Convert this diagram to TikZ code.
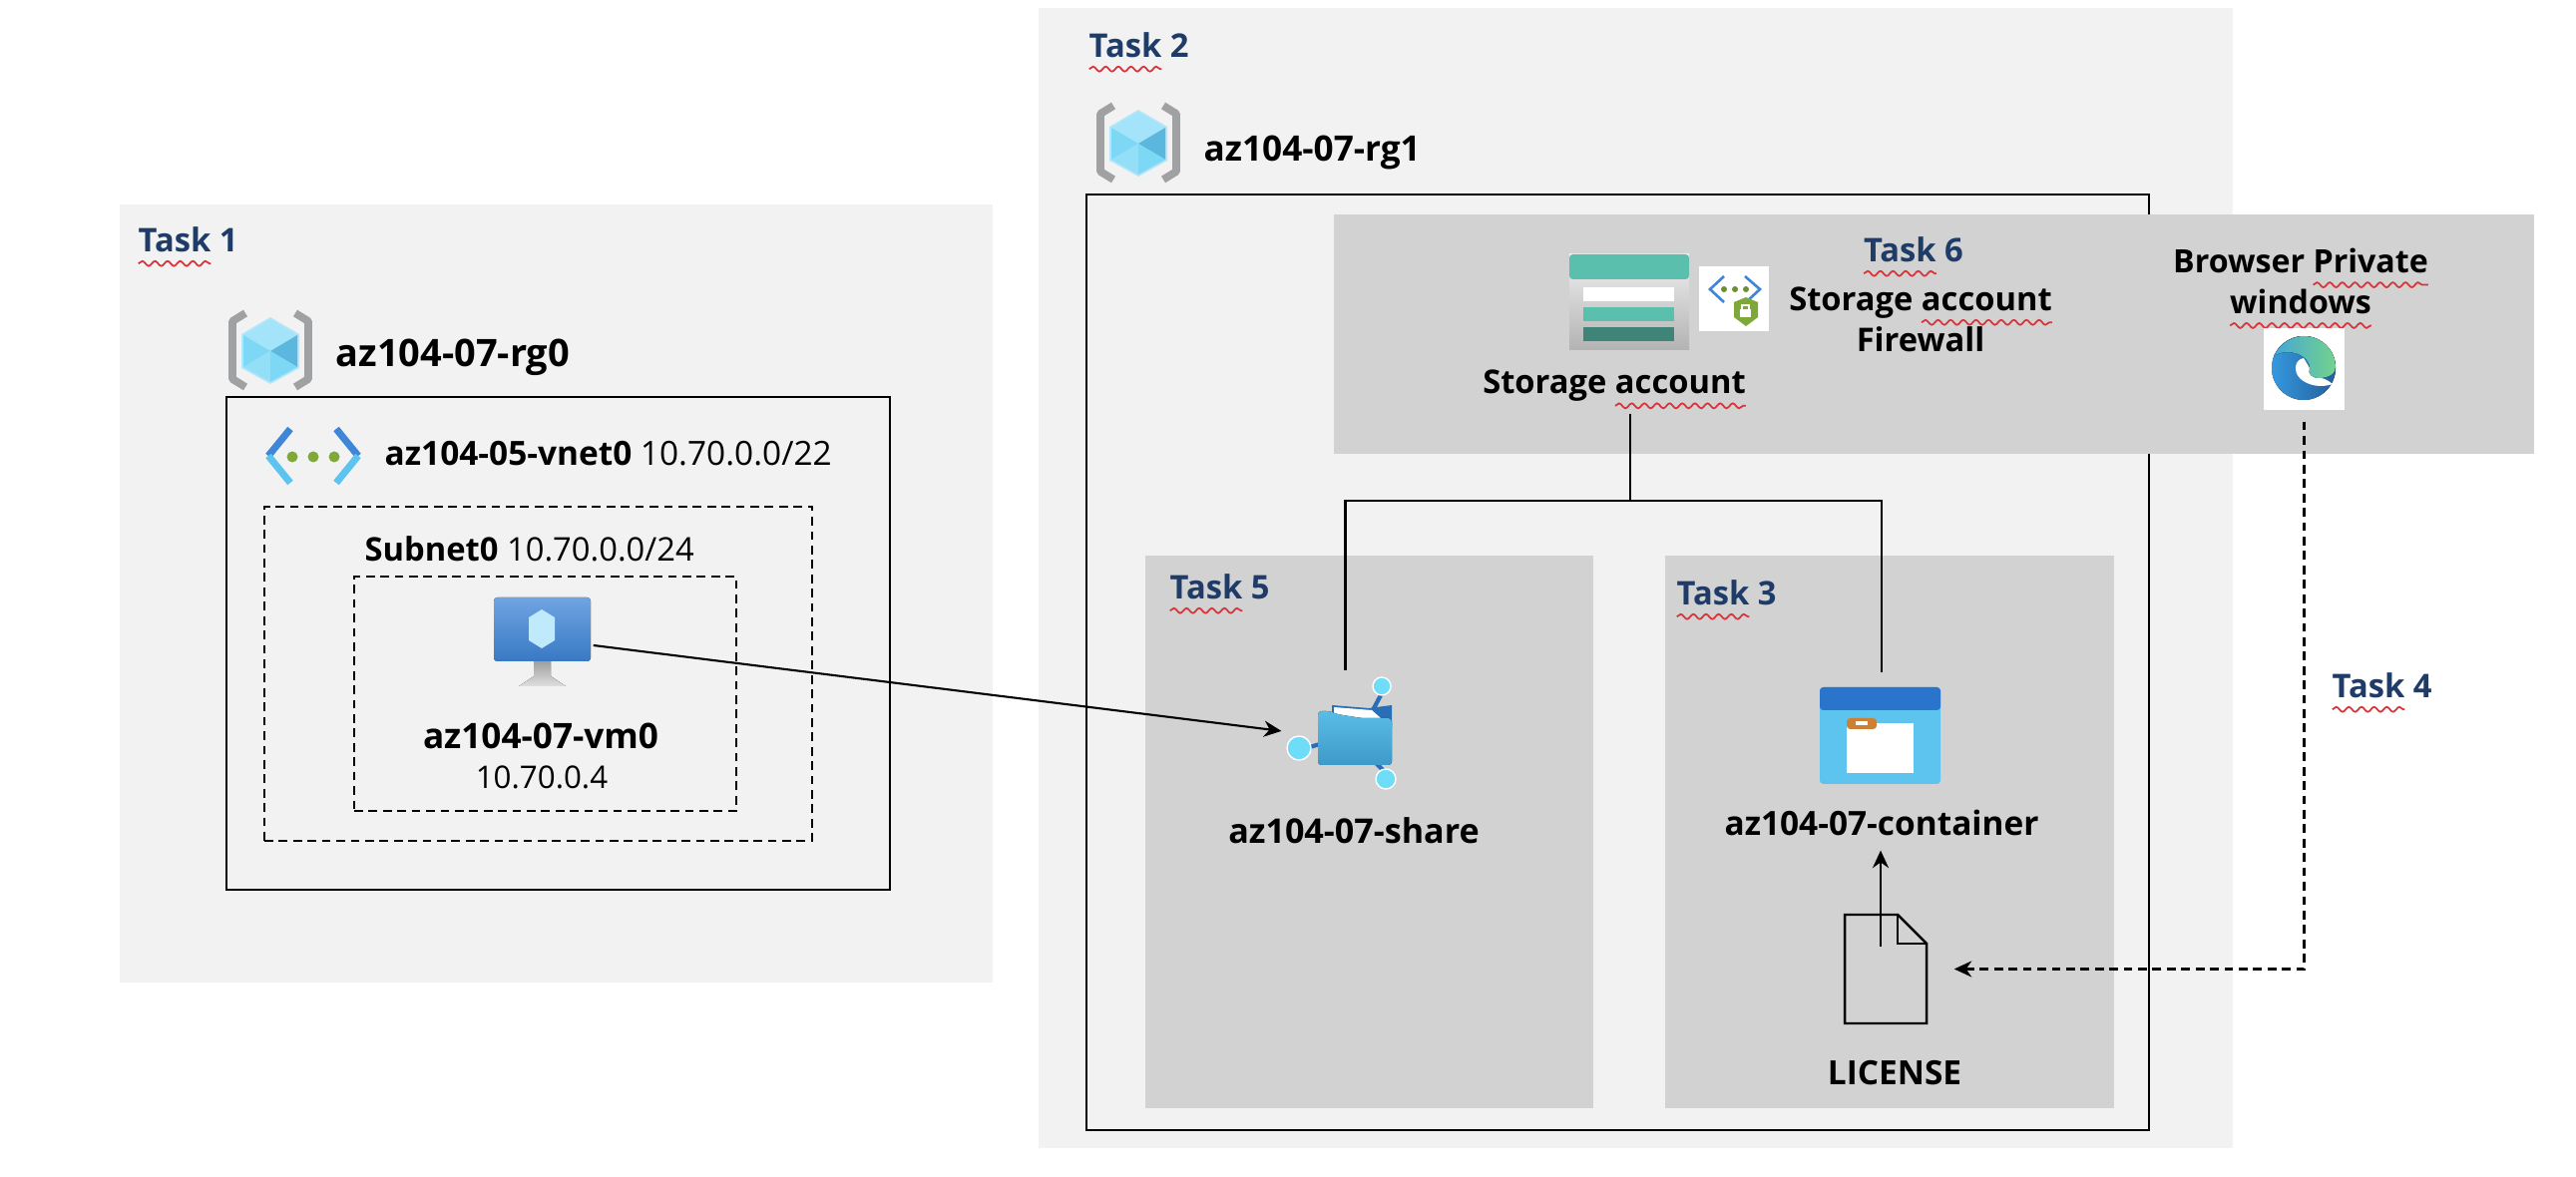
\documentclass[tikz,border=0pt]{standalone}
\usepackage{fontspec}
\setmainfont{Open Sans}
\usetikzlibrary{fit,arrows.meta,decorations.pathmorphing}

\definecolor{panelgray}{HTML}{F2F2F2}
\definecolor{bandgray}{HTML}{D2D2D2}
\definecolor{tasknavy}{HTML}{1F3B68}
\definecolor{bracketgray}{HTML}{A0A1A3}
\definecolor{spellred}{HTML}{D9343A}
\definecolor{HexTop}{HTML}{A3E4FA}
\definecolor{HexLeft}{HTML}{7DD8F6}
\definecolor{HexLow}{HTML}{93DFF8}
\definecolor{HexDark}{HTML}{5BB7DE}
\definecolor{netblue}{HTML}{3F86D9}
\definecolor{netcyan}{HTML}{5CC4EE}
\definecolor{netgreen}{HTML}{7FA83A}
\definecolor{sateal}{HTML}{5BBFAD}
\definecolor{sadark}{HTML}{3E8578}
\definecolor{foldertop}{HTML}{5ABDE6}
\definecolor{folderlow}{HTML}{3E9AC8}
\definecolor{folderback}{HTML}{2A6FB5}
\definecolor{sharenode}{HTML}{6FDCF8}
\definecolor{contband}{HTML}{2B74CC}
\definecolor{edgeteal}{HTML}{45A6D6}
\definecolor{edgegreen}{HTML}{72D38C}

% wavy spell-check line under a word
\newcommand{\spell}[1]{\setbox0=\hbox{#1}\rlap{\tikz[overlay,baseline=0pt]\draw[spellred, line width=0.5pt, decorate, decoration={snake, segment length=3.6pt, amplitude=0.7pt}] (0pt,-3.4pt) -- (\wd0,-3.4pt);}#1}

\tikzset{
  panel/.style={fill=panelgray, inner sep=0pt},
  band/.style={fill=bandgray, inner sep=0pt},
  frame/.style={draw=black, line width=0.6pt, inner sep=0pt},
  dashframe/.style={draw=black, line width=0.55pt, dash pattern=on 2.5pt off 1.6pt, inner sep=0pt},
  slot/.style={inner sep=0pt},
  lbl/.style={font=\fontsize{9.3}{11.6}\selectfont, text=black, inner xsep=0pt, inner ysep=4pt, align=center},
  bold/.style={lbl, font=\fontsize{#1}{11.6}\selectfont\bfseries},
  bold/.default=9.3,
  tasklbl/.style={lbl, font=\fontsize{9.3}{11}\selectfont\bfseries, text=tasknavy},
  wire/.style={line width=0.6pt},
  dashwire/.style={line width=0.6pt, dash pattern=on 2.5pt off 1.6pt},
}

% resource group: cube between two brackets
\newcommand{\rgicon}[2]{
  \begin{scope}[shift={(#1,#2)}]
    \draw[bracketgray, line width=2.2pt, line join=round] (-25,-37) -- (-38,-29) -- (-38,29) -- (-25,37);
    \draw[bracketgray, line width=2.2pt, line join=round] (25,-37) -- (38,-29) -- (38,29) -- (25,37);
    \fill[white!70!cyan] (0,-33) -- (29,-16) -- (29,18) -- (0,34) -- (-29,18) -- (-29,-16) -- cycle;
    \fill[HexTop] (0,-31) -- (27,-15) -- (0,1) -- (-27,-15) -- cycle;
    \fill[HexLeft] (-27,-15) -- (0,1) -- (-27,17) -- cycle;
    \fill[HexLow] (-27,17) -- (0,1) -- (0,32) -- cycle;
    \fill[HexDark] (27,-15) -- (27,17) -- (0,1) -- cycle;
    \fill[HexLeft] (27,17) -- (0,1) -- (0,32) -- cycle;
  \end{scope}
}

\begin{document}
\begin{tikzpicture}[x=0.01cm, y=-0.01cm, >={Stealth[length=5pt, width=4.6pt]}]
  \useasboundingbox (0,0) rectangle (2582,1180);

  % Task 1
  \node[panel, fit={(120,205) (995,985)}] (task1) {};
  \node[tasklbl, anchor=west] (task1lbl) at (138,240) {\spell{Task} 1};
  \rgicon{271}{351}
  \node[bold=10.8, anchor=west] (rg0lbl) at (336,358) {az104-07-rg0};
  \node[frame, fit={(227,398) (892,892)}] (rg0) {};

  % virtual network
  \coordinate (vneticon) at (314,457);
  \begin{scope}[shift={(vneticon)}]
    \draw[line width=2pt, netblue] (-23,-27) -- (-45,0);
    \draw[line width=2pt, netcyan] (-45,0) -- (-23,27);
    \draw[line width=2pt, netblue] (23,-27) -- (45,0);
    \draw[line width=2pt, netcyan] (45,0) -- (23,27);
    \foreach \dx in {-21,0,21}
      \fill[netgreen] (\dx,1) circle (5.5);
  \end{scope}
  \node[lbl, anchor=west, font=\fontsize{9.5}{11.6}\selectfont] (vnetlbl) at (385,455) {\textbf{az104-05-vnet0} 10.70.0.0/22};

  % subnet and vm
  \node[dashframe, fit={(265,508) (814,843)}] (subnet) {};
  \node[lbl, anchor=west] (subnetlbl) at (365,550) {\textbf{Subnet0} 10.70.0.0/24};
  \node[dashframe, fit={(355,578) (738,813)}] (vmbox) {};
  \node[slot, fit={(495,606) (594,688)}] (vm) {};
  \fill[top color=gray!75, bottom color=gray!25] (535,663) -- (552,663) -- (552,678) -- (567,688) -- (520,688) -- (535,678) -- cycle;
  \fill[rounded corners=1pt, top color=netblue!75!white, bottom color=netblue!90!black] (495,599) rectangle (592,663);
  \fill[cyan!25!white] (543,611) -- (556,619) -- (556,642) -- (543,650) -- (530,642) -- (530,619) -- cycle;
  \node[bold=10] (vmlbl) at (542,738) {az104-07-vm0};
  \node[lbl, font=\fontsize{8.9}{11.6}\selectfont] (vmip) at (543,779) {10.70.0.4};

  % Task 2
  \node[panel, fit={(1041,8) (2238,1151)}] (task2) {};
  \node[tasklbl, anchor=west] (task2lbl) at (1091,45) {\spell{Task} 2};
  \rgicon{1141}{143}
  \node[bold=10, anchor=west] (rg1lbl) at (1206,153) {az104-07-rg1};
  \node[frame, fit={(1089,195) (2154,1133)}] (rg1) {};

  % Task 6 band
  \node[band, fit={(1337,215) (2540,455)}] (task6) {};
  \fill[top color=gray!12, bottom color=gray!60] (1573,255) rectangle (1693,351);
  \fill[rounded corners=1pt, sateal] (1573,255) rectangle (1693,280);
  \fill[white] (1587,288) rectangle (1678,302);
  \fill[sateal] (1587,308) rectangle (1678,322);
  \fill[sadark] (1587,328) rectangle (1678,342);
  % firewall tile
  \fill[white] (1703,267) rectangle (1773,332);
  \draw[netblue, line width=0.75pt] (1728,277) -- (1714,290) -- (1728,303);
  \draw[netblue, line width=0.75pt] (1749,277) -- (1764,290) -- (1750,303);
  \foreach \dx in {1728,1739,1750}
    \fill[netgreen!85!black] (\dx,290) circle (3);
  \fill[netgreen] (1738,303) -- (1750,298) -- (1762,303) -- (1762,318) -- (1750,327) -- (1738,318) -- cycle;
  \fill[white] (1744,310) rectangle (1755,318);
  \draw[white, line width=0.5pt] (1746,310) -- (1746,306) -- (1753,306) -- (1753,310);
  \node[bold] (salbl) at (1618,387) {Storage \spell{account}};
  \node[tasklbl] (task6lbl) at (1918,250) {\spell{Task} 6};
  \node[bold] (fwlbl) at (1925,320) {Storage \spell{account}\\Firewall};
  \node[bold=9.15] (browserlbl) at (2306,282) {Browser \spell{Private}\\\spell{windows}};
  % browser tile
  \node[slot, fill=white, fit={(2269,329) (2350,411)}] (edge) {};
  \begin{scope}[shift={(2309,369)}]
    \fill[left color=netblue!85!cyan, right color=folderback!85!black] (0,0) circle (32);
    \fill[white] (0,-10) .. controls (-10,-8) and (-10,4) .. (-4,10) .. controls (4,18) and (18,20) .. (29,16) .. controls (24,12) and (20,10) .. (16,10) -- (6,0) -- cycle;
    \fill[left color=edgeteal, right color=edgegreen] (-30,-12) .. controls (-22,-28) and (-8,-32) .. (0,-32) .. controls (20,-32) and (32,-16) .. (32,-1) .. controls (32,6) and (24,10) .. (16,10) .. controls (8,10) and (4,6) .. (6,0) .. controls (6,-10) and (-6,-16) .. (-16,-16) .. controls (-22,-16) and (-28,-14) .. (-30,-12) -- cycle;
  \end{scope}

  % Task 5
  \node[band, fit={(1148,557) (1597,1111)}] (task5) {};
  \node[tasklbl, anchor=west] (task5lbl) at (1172,588) {\spell{Task} 5};
  \node[slot, fit={(1302,673) (1395,797)}] (share) {};
  \draw[folderback, line width=1.2pt] (1385,695) -- (1376,712);
  \draw[folderback, line width=1.2pt] (1389,775) -- (1378,764);
  \draw[folderback, line width=1.2pt] (1306,751) -- (1323,746);
  \fill[folderback] (1335,707) -- (1372,710) -- (1395,707) -- (1395,730) -- (1335,730) -- cycle;
  \fill[white] (1337,709) -- (1375,712) -- (1384,720) -- (1337,722) -- cycle;
  \fill[rounded corners=1pt, top color=foldertop, bottom color=folderlow] (1321,713) -- (1333,713) -- (1340,716) -- (1365,720) -- (1395,720) -- (1395,767) -- (1321,767) -- cycle;
  \foreach \nx/\ny/\nr in {1385/688/9, 1302/750/12, 1389/781/10}
    \filldraw[fill=sharenode, draw=white, line width=0.4pt] (\nx,\ny) circle (\nr);
  \node[bold=9.7] (sharelbl) at (1357,833) {az104-07-share};

  % Task 3
  \node[band, fit={(1669,557) (2119,1111)}] (task3) {};
  \node[tasklbl, anchor=west] (task3lbl) at (1680,594) {\spell{Task} 3};
  \node[slot, fit={(1826,675) (1946,790)}] (cont) {};
  \fill[rounded corners=1pt, netcyan] (1824,689) rectangle (1945,786);
  \fill[rounded corners=1pt, contband] (1824,689) rectangle (1945,712);
  \fill[white] (1851,725) rectangle (1918,775);
  \fill[rounded corners=1pt, orange!75!black!80!white] (1851,720) rectangle (1881,731);
  \fill[white] (1860,723) rectangle (1872,727);
  \node[bold=9.5] (contlbl) at (1886,825) {az104-07-container};

  % license file
  \node[slot, fit={(1849,917) (1931,1026)}] (doc) {};
  \draw[line width=0.7pt, line join=miter] (1849,917) -- (1902,917) -- (1931,946) -- (1931,1026) -- (1849,1026) -- cycle;
  \draw[line width=0.7pt] (1902,917) -- (1902,946) -- (1931,946);
  \node[bold=9.5] (liclbl) at (1899,1076) {LICENSE};
  \coordinate (docin) at (1885,949);
  \draw[wire, ->] (docin) -- (docin |- contlbl.south);

  % connectors
  \coordinate (bus) at (1634,502);
  \draw[wire, shorten <=-0.03cm] (salbl.south -| bus) -- (bus);
  \draw[wire] (share.north) |- (bus);
  \draw[wire] (cont.north) |- (bus);
  \draw[wire, ->, shorten >=0.17cm] (vm.east) -- (share.west);
  \draw[dashwire, ->, shorten <=0.11cm, shorten >=0.27cm] (edge.south) |- (doc.east);
  \node[tasklbl, anchor=west] (task4lbl) at (2337,687) {\spell{Task} 4};

\end{tikzpicture}
\end{document}
